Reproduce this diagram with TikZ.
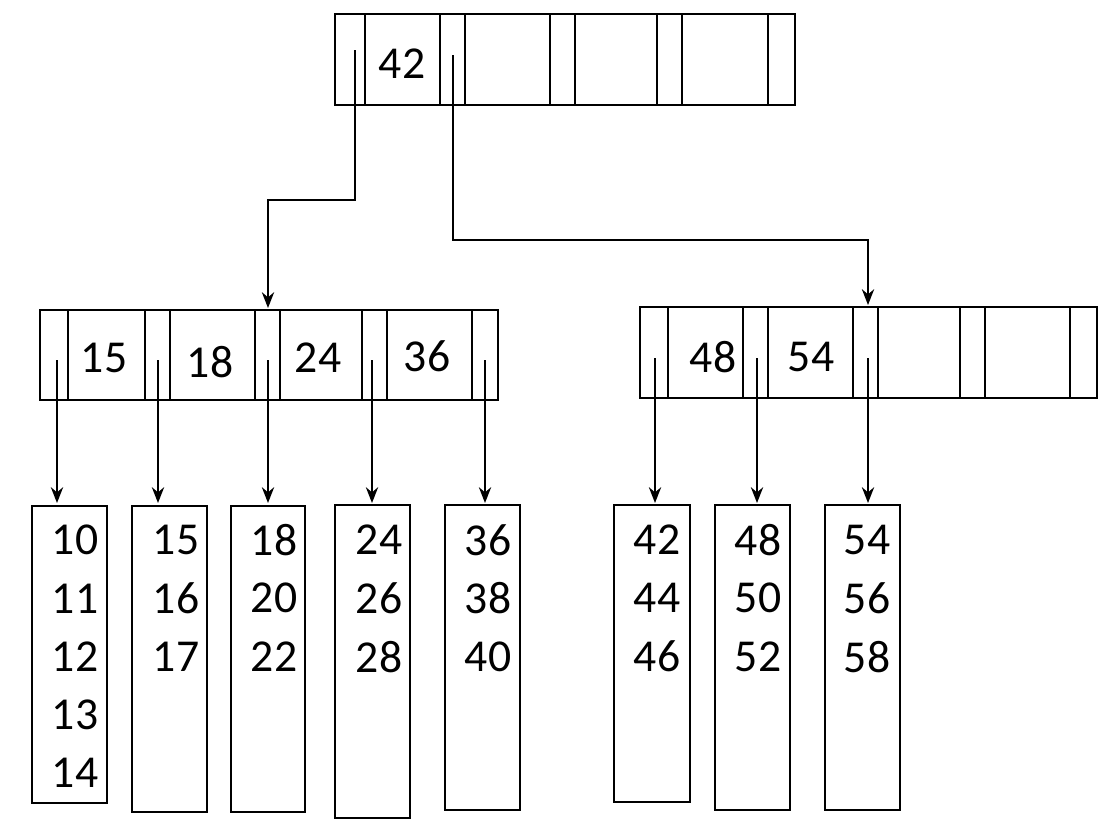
\documentclass[tikz,border=0pt]{standalone}
\usepackage{fontspec}
\setmainfont{Carlito}
\usetikzlibrary{arrows.meta}
\begin{document}
\begin{tikzpicture}[x=0.02cm,y=-0.02cm,line width=1.1pt,
  lbl/.style={font=\fontsize{26}{30}\selectfont,inner sep=0pt},
  ptr/.style={-{Stealth[length=9pt,width=7pt]}},
  box/.style={draw,rectangle,inner sep=0pt}]
\useasboundingbox (0,0) rectangle (1114,839);
% root
\node[box,minimum width=460*0.02cm,minimum height=91*0.02cm] (root) at (565,59.5) {};
\foreach \x in {365,440,465,550,575,657,682,768} \draw (\x,14) -- (\x,105);
\node[lbl] (k42) at (402,64) {42};
\coordinate (rp1) at (355,50); \coordinate (rp2) at (453,55);
% left inner
\node[box,minimum width=458*0.02cm,minimum height=90*0.02cm] (L) at (269,355) {};
\foreach \x in {68,145,170,255,280,362,387,472} \draw (\x,310) -- (\x,400);
\node[lbl] (k15) at (104,358) {15};
\node[lbl] (k18) at (210,362) {18};
\node[lbl] (k24) at (318,358) {24};
\node[lbl] (k36) at (427,356) {36};
% right inner
\node[box,minimum width=457*0.02cm,minimum height=91*0.02cm] (R) at (868.5,352.5) {};
\foreach \x in {668,743,768,853,878,960,985,1070} \draw (\x,307) -- (\x,398);
\node[lbl] (k48) at (713,357) {48};
\node[lbl] (k54) at (811,357) {54};
% root arrows
\coordinate (lt) at (268,308); \coordinate (rt) at (868,305);
\draw[ptr] (rp1) |- (268,200) -- (lt);
\draw[ptr] (rp2) |- (868,240) -- (rt);
% leaves
\foreach \n/\xa/\xb/\ya/\yb/\cx/\vals in {
 1/32/107/506/803/75/{10,11,12,13,14},
 2/132/207/506/812/176/{15,16,17},
 3/231/305/506/812/274/{18,20,22},
 4/335/410/505/818/379/{24,26,28},
 5/445/520/505/810/488/{36,38,40},
 6/614/690/505/802/657/{42,44,46},
 7/715/790/505/810/758/{48,50,52},
 8/825/900/505/810/867/{54,56,58}}{
  \draw (\xa,\ya) rectangle (\xb,\yb);
  \coordinate (leaf\n) at (\cx,\ya);
  \foreach \v [count=\i] in \vals
    \node[lbl] (v\n-\i) at (\cx,540+58.3*\i-58.3) {\v};
}
% child pointers
\foreach \x/\y/\t in {57/360/503,158/360/503,268/360/503,372/360/503,485/360/503,655/358/503,757/358/503,868/358/503}
  \draw[ptr] (\x,\y) -- (\x,\t);
\end{tikzpicture}
\end{document}
